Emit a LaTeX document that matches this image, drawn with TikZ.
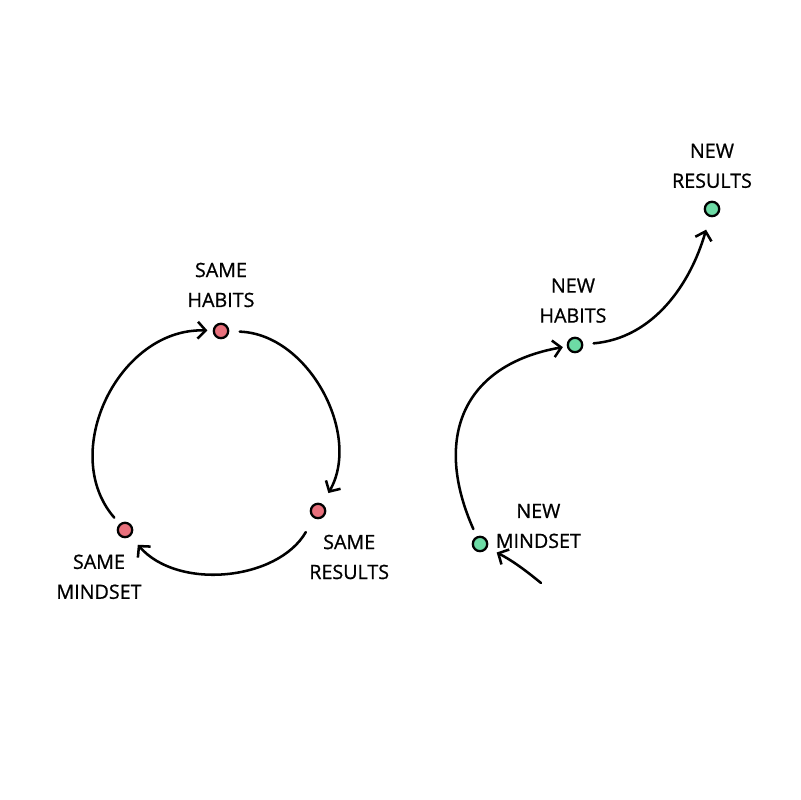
\documentclass[tikz,border=0pt]{standalone}
\usepackage{fontspec}
\setmainfont{Open Sans}[FakeBold=0.8]
\usetikzlibrary{positioning,arrows.meta}
\definecolor{samered}{HTML}{E8707C}
\definecolor{newgreen}{HTML}{6DDBA5}
\tikzstyle{dot} = [circle,draw,line width=1.6pt,minimum size=0.36cm,inner sep=0pt]
\begin{document}
\begin{tikzpicture}
		[
		x=0.025cm,y=0.025cm,
		lbl/.style={
		align=center,
		inner sep=0pt,
		font=\fontsize{14}{21.3}\selectfont},
		arr/.style={-{Straight Barb[length=0.2cm,width=0.42cm]},line width=1.8pt,line cap=round,line join=round}
		]
		\useasboundingbox (0,0) rectangle (800,800);
		% the old loop
		\node[dot,fill=samered] (same_habits) at (221,469) {};
		\node[dot,fill=samered] (same_results) at (318,289) {};
		\node[dot,fill=samered] (same_mindset) at (125,270) {};
		\node[lbl,above=0.38cm of same_habits] {SAME\\HABITS};
		\node[lbl,below=0.38cm of same_results,xshift=0.78cm] {SAME\\RESULTS};
		\node[lbl,below=0.4cm of same_mindset,xshift=-0.65cm] {SAME\\MINDSET};
		\draw[arr,shorten <=0.26cm,shorten >=0.31cm] (same_habits) to[out=-2,in=60,looseness=1.04] (same_results);
		\draw[arr,shorten <=0.4cm,shorten >=0.28cm] (same_results) to[out=-120,in=-49,looseness=1.0] (same_mindset);
		\draw[arr,shorten <=0.2cm,shorten >=0.13cm] (same_mindset) to[out=131,in=178,looseness=1.12] (same_habits);
		% the new path
		\node[dot,fill=newgreen] (new_mindset) at (480,256) {};
		\node[dot,fill=newgreen] (new_habits) at (575,455) {};
		\node[dot,fill=newgreen] (new_results) at (712,591) {};
		\coordinate (new_start) at (541,217);
		\node[lbl,right=0.18cm of new_mindset,yshift=0.45cm] {NEW\\MINDSET};
		\node[lbl,above=0.34cm of new_habits,xshift=-0.05cm] {NEW\\HABITS};
		\node[lbl,above=0.31cm of new_results] {NEW\\RESULTS};
		\draw[arr,shorten >=0.26cm] (new_start) to[bend right=6] (new_mindset);
		\draw[arr,shorten <=0.2cm,shorten >=0.1cm] (new_mindset) to[out=114,in=190,looseness=1.3] (new_habits);
		\draw[arr,shorten <=0.26cm,shorten >=0.33cm] (new_habits) to[out=5,in=-106] (new_results);
\end{tikzpicture}
\end{document}
